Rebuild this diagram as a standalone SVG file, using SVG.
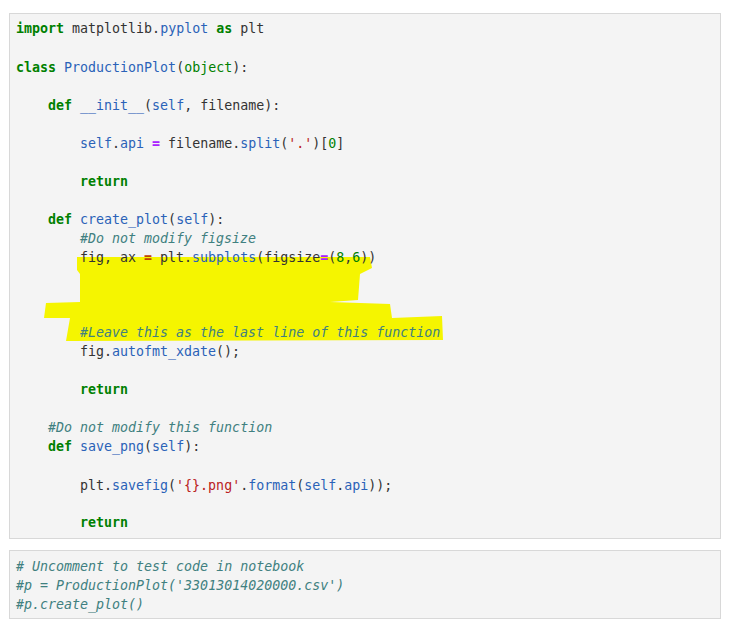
<svg xmlns="http://www.w3.org/2000/svg" width="732" height="634" viewBox="0 0 732 634">
<style>
text{font-family:"DejaVu Sans Mono","Liberation Mono",monospace;font-size:13.3px;fill:#333;white-space:pre}
.k{fill:#008000;font-weight:bold}.n{fill:#2a62b8}.c{fill:#408080;font-style:italic}.o{fill:#aa22ff;font-weight:bold}.s{fill:#ba2121}.m{fill:#008000}
.box{fill:#f4f4f4;stroke:#d8d8d8;stroke-width:1}
</style>
<rect width="732" height="634" fill="#fff"/>
<rect class="box" x="9.5" y="13.5" width="711" height="525"/>
<rect class="box" x="9.5" y="550.5" width="711" height="68"/>
<path d="M77 257 L370 257 L372 268 L360 274 L358 300 L330 302 L390 304 L392 318 L442 316 L443 340 L66 341 L70 318 L44 318 L46 303 L80 302 L80 274 L77 270 Z" fill="#f5f500"/>
<text x="16" y="33"><tspan class="k">import</tspan> matplotlib.<tspan class="n">pyplot</tspan> <tspan class="k">as</tspan> plt</text>
<text x="16" y="72"><tspan class="k">class</tspan> <tspan class="n">ProductionPlot</tspan>(<tspan class="m">object</tspan>):</text>
<text x="48" y="110"><tspan class="k">def</tspan> <tspan class="n">__init__</tspan>(<tspan class="n">self</tspan>, filename):</text>
<text x="80" y="148"><tspan class="n">self</tspan>.<tspan class="n">api</tspan> <tspan class="o">=</tspan> filename.<tspan class="n">split</tspan>(<tspan class="s">'.'</tspan>)[<tspan class="m">0</tspan>]</text>
<text x="80" y="186"><tspan class="k">return</tspan></text>
<text x="48" y="224"><tspan class="k">def</tspan> <tspan class="n">create_plot</tspan>(<tspan class="n">self</tspan>):</text>
<text x="80" y="243" class="c">#Do not modify figsize</text>
<text x="80" y="262">fig, ax <tspan class="o" style="fill:#c04000">=</tspan> plt.<tspan class="n">subplots</tspan>(figsize<tspan class="o">=</tspan>(<tspan class="m">8</tspan>,<tspan class="m">6</tspan>))</text>
<text x="80" y="337" class="c">#Leave this as the last line of this function</text>
<text x="80" y="356">fig.<tspan class="n">autofmt_xdate</tspan>();</text>
<text x="80" y="394"><tspan class="k">return</tspan></text>
<text x="48" y="432" class="c">#Do not modify this function</text>
<text x="48" y="451"><tspan class="k">def</tspan> <tspan class="n">save_png</tspan>(<tspan class="n">self</tspan>):</text>
<text x="80" y="490">plt.<tspan class="n">savefig</tspan>(<tspan class="s">'{}.png'</tspan>.<tspan class="n">format</tspan>(<tspan class="n">self</tspan>.<tspan class="n">api</tspan>));</text>
<text x="80" y="527"><tspan class="k">return</tspan></text>
<text x="16" y="571" class="c"># Uncomment to test code in notebook</text>
<text x="16" y="590" class="c">#p = ProductionPlot('33013014020000.csv')</text>
<text x="16" y="609" class="c">#p.create_plot()</text>
</svg>
